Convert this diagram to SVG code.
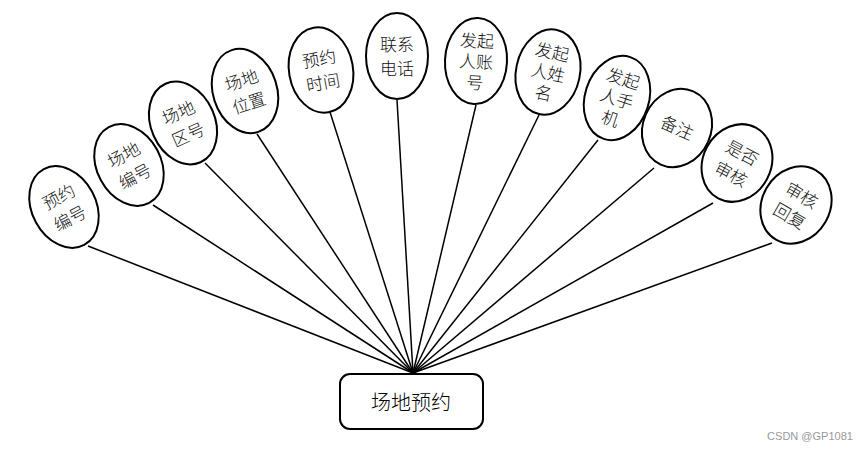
<svg xmlns="http://www.w3.org/2000/svg" width="868" height="450" viewBox="0 0 868 450">
<style>
.e{fill:#fff;stroke:#000;stroke-width:2}
.t{font-family:"Noto Sans CJK SC",sans-serif;font-size:17px;font-weight:300;text-anchor:middle;fill:#111}
.c line{stroke:#000;stroke-width:1.5}
</style>
<rect width="868" height="450" fill="#fff"/>
<g class="c" id="connectors">
<line x1="88" y1="246" x2="413" y2="373"/>
<line x1="153" y1="205" x2="413" y2="373"/>
<line x1="205" y1="163" x2="413" y2="373"/>
<line x1="257" y1="134" x2="413" y2="373"/>
<line x1="330" y1="112" x2="413" y2="373"/>
<line x1="397" y1="100" x2="413" y2="373"/>
<line x1="476" y1="105" x2="413" y2="373"/>
<line x1="539" y1="115" x2="413" y2="373"/>
<line x1="598" y1="140" x2="413" y2="373"/>
<line x1="654" y1="168" x2="413" y2="373"/>
<line x1="713" y1="203" x2="413" y2="373"/>
<line x1="772" y1="243" x2="413" y2="373"/>
</g>
<g id="n1" transform="translate(64,207) rotate(-28)"><ellipse class="e" rx="32" ry="43"/><text class="t" y="-5">预约</text><text class="t" y="19">编号</text></g>
<g id="n2" transform="translate(129,165) rotate(-28)"><ellipse class="e" rx="32" ry="43"/><text class="t" y="-5">场地</text><text class="t" y="19">编号</text></g>
<g id="n3" transform="translate(183,123) rotate(-24)"><ellipse class="e" rx="32" ry="43"/><text class="t" y="-5">场地</text><text class="t" y="19">区号</text></g>
<g id="n4" transform="translate(245,91) rotate(-18)"><ellipse class="e" rx="32" ry="43"/><text class="t" y="-5">场地</text><text class="t" y="19">位置</text></g>
<g id="n5" transform="translate(321,70) rotate(-10)"><ellipse class="e" rx="32" ry="43"/><text class="t" y="-5">预约</text><text class="t" y="19">时间</text></g>
<g id="n6" transform="translate(397,56)"><ellipse class="e" rx="31" ry="43"/><text class="t" y="-5">联系</text><text class="t" y="19">电话</text></g>
<g id="n7" transform="translate(476,61) rotate(3)"><ellipse class="e" rx="31" ry="43"/><text class="t" y="-14">发起</text><text class="t" y="7">人账</text><text class="t" y="28">号</text></g>
<g id="n8" transform="translate(548,72) rotate(12)"><ellipse class="e" rx="32" ry="43"/><text class="t" y="-14">发起</text><text class="t" y="7">人姓</text><text class="t" y="28">名</text></g>
<g id="n9" transform="translate(617,98) rotate(18)"><ellipse class="e" rx="32" ry="43"/><text class="t" y="-14">发起</text><text class="t" y="7">人手</text><text class="t" y="28">机</text></g>
<g id="n10" transform="translate(677,128) rotate(24)"><ellipse class="e" rx="34" ry="40"/><text class="t" y="6">备注</text></g>
<g id="n11" transform="translate(737,163) rotate(28)"><ellipse class="e" rx="34" ry="40"/><text class="t" y="-5">是否</text><text class="t" y="19">审核</text></g>
<g id="n12" transform="translate(796,205) rotate(30)"><ellipse class="e" rx="34" ry="40"/><text class="t" y="-5">审核</text><text class="t" y="19">回复</text></g>
<g id="center"><rect x="340" y="374" width="143" height="55" rx="10" fill="#fff" stroke="#000" stroke-width="2"/><text x="411" y="410" style="font-family:'Noto Sans CJK SC',sans-serif;font-size:20px;font-weight:300;text-anchor:middle">场地预约</text></g>
<text x="810" y="440" style="font-family:'Liberation Sans',sans-serif;font-size:11px;text-anchor:middle;fill:#999">CSDN @GP1081</text>
</svg>
